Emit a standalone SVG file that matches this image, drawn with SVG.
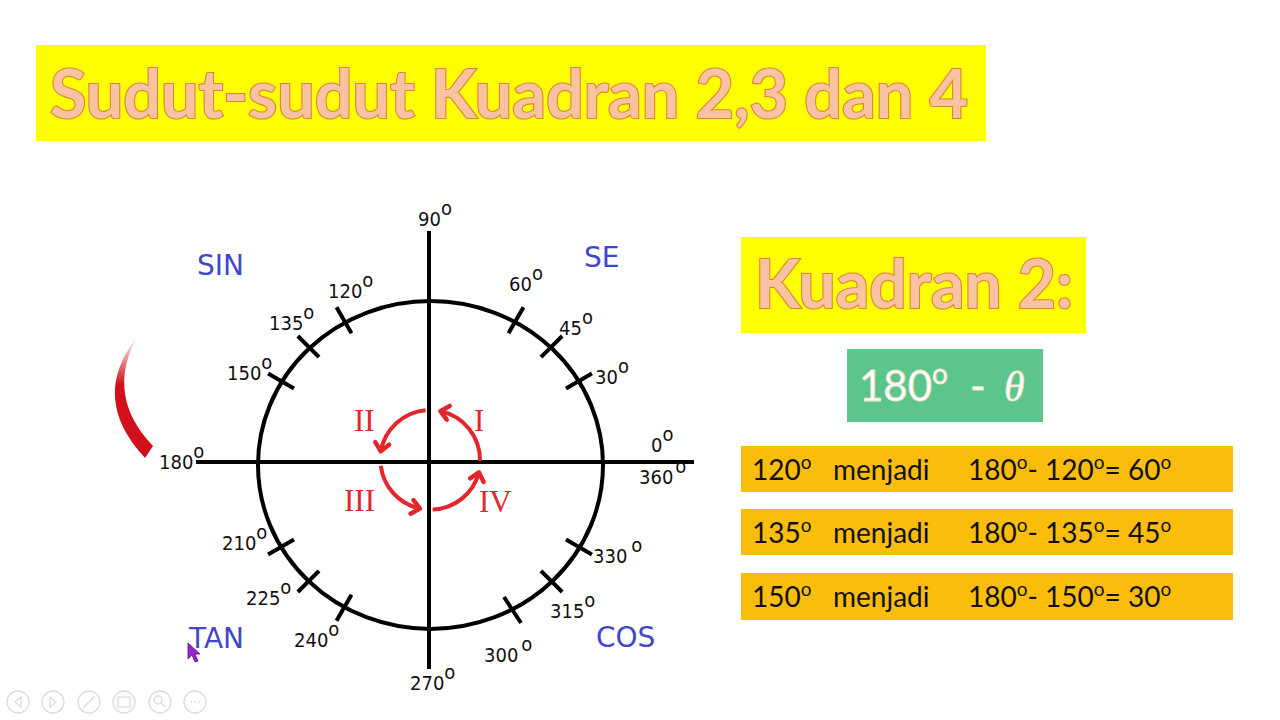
<svg xmlns="http://www.w3.org/2000/svg" width="1280" height="720" viewBox="0 0 1280 720">
<style>
.deg{font-family:'DejaVu Sans Condensed','DejaVu Sans',sans-serif;font-stretch:condensed;font-size:20px;fill:#111}
.sup{font-size:20px}
.blue{font-family:'DejaVu Sans',sans-serif;font-size:28px;fill:#3f48cc}
.rom{font-family:'Liberation Serif',serif;font-size:31px;fill:#e3262d}
.big{font-family:Lato,'Open Sans',sans-serif;font-weight:700;font-size:66px;fill:#f8c3a0;stroke:#e0823e;stroke-width:2.2;paint-order:stroke}
.row{font-family:Lato,'Open Sans',sans-serif;font-size:28px;fill:#111}
.rsup{font-size:19px}
.tick{stroke:#000;stroke-width:4;stroke-linecap:butt}
.red{fill:none;stroke:#e3262d;stroke-width:4;marker-end:url(#ah)}
.ico{fill:none;stroke:#dcdcdc;stroke-width:1.3}
</style>
<defs>
<marker id="ah" viewBox="-12 -12 24 24" markerWidth="24" markerHeight="24" markerUnits="userSpaceOnUse" orient="auto" refX="0" refY="0">
<path d="M-8,-7 L0,0 L-8,7" fill="none" stroke="#e3262d" stroke-width="4.5" stroke-linecap="round" stroke-linejoin="round"/>
</marker>
<linearGradient id="fade" gradientUnits="userSpaceOnUse" x1="0" y1="336" x2="0" y2="385">
<stop offset="0" stop-color="#d0101a" stop-opacity="0"/>
<stop offset="1" stop-color="#d0101a" stop-opacity="1"/>
</linearGradient>
</defs>
<rect width="1280" height="720" fill="#fff"/>

<g id="title">
<rect x="36" y="45" width="950" height="96" fill="#ffff00"/>
<text class="big" x="50" y="118" textLength="918" lengthAdjust="spacingAndGlyphs">Sudut-sudut Kuadran 2,3 dan 4</text>
</g>

<g id="circle-diagram">
<ellipse cx="430.5" cy="465" rx="172.5" ry="164" fill="none" stroke="#000" stroke-width="4"/>
<line class="tick" x1="196" y1="462" x2="694" y2="462"/>
<line class="tick" x1="429" y1="231" x2="429" y2="669"/>
<g id="ticks">
<line class="tick" x1="591.9" y1="373.5" x2="566" y2="388.5"/>
<line class="tick" x1="562.2" y1="336" x2="541" y2="357.2"/>
<line class="tick" x1="523.5" y1="307.2" x2="508.5" y2="333.2"/>
<line class="tick" x1="336.5" y1="307.2" x2="351.5" y2="333.2"/>
<line class="tick" x1="297.8" y1="336" x2="319" y2="357.2"/>
<line class="tick" x1="268.1" y1="373.5" x2="294" y2="388.5"/>
<line class="tick" x1="268.1" y1="554.5" x2="294" y2="539.5"/>
<line class="tick" x1="297.8" y1="592" x2="319" y2="570.8"/>
<line class="tick" x1="336.5" y1="620.8" x2="351.5" y2="594.8"/>
<line class="tick" x1="521" y1="623" x2="504" y2="597"/>
<line class="tick" x1="562.2" y1="592" x2="541" y2="570.8"/>
<line class="tick" x1="591.9" y1="554.5" x2="566" y2="539.5"/>
</g>
<g id="angle-labels">
<text class="deg" x="418" y="226">90<tspan class="sup" dy="-11">o</tspan></text>
<text class="deg" x="328" y="298">120<tspan class="sup" dy="-11">o</tspan></text>
<text class="deg" x="269" y="330">135<tspan class="sup" dy="-11">o</tspan></text>
<text class="deg" x="227" y="380">150<tspan class="sup" dy="-11">o</tspan></text>
<text class="deg" x="509" y="291">60<tspan class="sup" dy="-11">o</tspan></text>
<text class="deg" x="559" y="335">45<tspan class="sup" dy="-11">o</tspan></text>
<text class="deg" x="595" y="384">30<tspan class="sup" dy="-11">o</tspan></text>
<text class="deg" x="651" y="452">0<tspan class="sup" dy="-11">o</tspan></text>
<text class="deg" x="639" y="484">360<tspan class="sup" dx="2" dy="-11">o</tspan></text>
<text class="deg" x="593" y="563">330<tspan class="sup" dx="4" dy="-11">o</tspan></text>
<text class="deg" x="550" y="618">315<tspan class="sup" dy="-11">o</tspan></text>
<text class="deg" x="484" y="662">300<tspan class="sup" dx="3" dy="-11">o</tspan></text>
<text class="deg" x="410" y="690">270<tspan class="sup" dy="-11">o</tspan></text>
<text class="deg" x="294" y="647">240<tspan class="sup" dy="-11">o</tspan></text>
<text class="deg" x="246" y="605">225<tspan class="sup" dy="-11">o</tspan></text>
<text class="deg" x="222" y="550">210<tspan class="sup" dy="-11">o</tspan></text>
<text class="deg" x="159" y="469">180<tspan class="sup" dy="-11">o</tspan></text>
</g>
<g id="quadrant-names">
<text class="blue" x="197" y="275">SIN</text>
<text class="blue" x="584" y="267">SE</text>
<text class="blue" x="596" y="647">COS</text>
<text class="blue" x="189" y="648">TAN</text>
</g>
</g>

<g id="connectors">
<path class="red" d="M480,461 A50,50 0 0 0 440.4,411.1"/>
<path class="red" d="M425.6,410.2 A50,50 0 0 0 380.8,451.3"/>
<path class="red" d="M380.8,465.7 A50,50 0 0 0 419.9,508.6"/>
<path class="red" d="M432.6,509.6 A50,50 0 0 0 478.9,472.4"/>
</g>
<g id="roman">
<text class="rom" x="354" y="431">II</text>
<text class="rom" x="474" y="431">I</text>
<text class="rom" x="344" y="511">III</text>
<text class="rom" x="479" y="512">IV</text>
</g>

<g id="red-arc">
<path d="M137,337 Q89,398 145,458 L153,446 Q105,396 137,337 Z" fill="url(#fade)"/>
</g>

<g id="kuadran-title">
<rect x="741" y="237" width="345" height="96" fill="#ffff00"/>
<text class="big" x="755" y="308" textLength="318" lengthAdjust="spacingAndGlyphs">Kuadran 2:</text>
</g>

<g id="formula">
<rect x="847" y="349" width="196" height="73" fill="#5bc58c"/>
<text x="859" y="401" font-family="Lato,'Open Sans',sans-serif" font-size="42" fill="#fff" stroke="#efe2c8" stroke-width="0.8">180<tspan font-size="28" dy="-17">o</tspan><tspan dy="17" x="970">-</tspan></text>
<text x="1004" y="401" font-family="'Liberation Serif',serif" font-style="italic" font-size="42" fill="#fff" stroke="#efe2c8" stroke-width="0.8">θ</text>
</g>

<g id="row1">
<rect x="741" y="446" width="492" height="46" fill="#fbbd0c"/>
<text class="row" y="480"><tspan x="752">120</tspan><tspan class="rsup" dy="-11">o</tspan><tspan x="833" y="480">menjadi</tspan><tspan x="968">180</tspan><tspan class="rsup" dy="-11">o</tspan><tspan dy="11">- 120</tspan><tspan class="rsup" dy="-11">o</tspan><tspan dy="11">= 60</tspan><tspan class="rsup" dy="-11">o</tspan></text>
</g>
<g id="row2">
<rect x="741" y="509" width="492" height="46" fill="#fbbd0c"/>
<text class="row" y="543"><tspan x="752">135</tspan><tspan class="rsup" dy="-11">o</tspan><tspan x="833" y="543">menjadi</tspan><tspan x="968">180</tspan><tspan class="rsup" dy="-11">o</tspan><tspan dy="11">- 135</tspan><tspan class="rsup" dy="-11">o</tspan><tspan dy="11">= 45</tspan><tspan class="rsup" dy="-11">o</tspan></text>
</g>
<g id="row3">
<rect x="741" y="573" width="492" height="47" fill="#fbbd0c"/>
<text class="row" y="607"><tspan x="752">150</tspan><tspan class="rsup" dy="-11">o</tspan><tspan x="833" y="607">menjadi</tspan><tspan x="968">180</tspan><tspan class="rsup" dy="-11">o</tspan><tspan dy="11">- 150</tspan><tspan class="rsup" dy="-11">o</tspan><tspan dy="11">= 30</tspan><tspan class="rsup" dy="-11">o</tspan></text>
</g>

<g id="cursor">
<path d="M188,643 L188,659 L192,655 L195,662 L198,661 L195,654 L200,654 Z" fill="#9b20d0" stroke="#5a1080" stroke-width="0.8"/>
</g>

<g id="toolbar">
<circle class="ico" cx="18" cy="702" r="11"/><path class="ico" d="M21,697 L15,702 L21,707 Z"/>
<circle class="ico" cx="53" cy="702" r="11"/><path class="ico" d="M50,697 L56,702 L50,707 Z"/>
<circle class="ico" cx="89" cy="702" r="11"/><path class="ico" d="M83,708 L95,696"/>
<circle class="ico" cx="124" cy="702" r="11"/><rect class="ico" x="118" y="697" width="12" height="10"/>
<circle class="ico" cx="160" cy="702" r="11"/><circle class="ico" cx="158" cy="700" r="4"/><path class="ico" d="M161,703 L165,707"/>
<circle class="ico" cx="195" cy="702" r="11"/><path class="ico" d="M190,702h2M194,702h2M198,702h2"/>
</g>
</svg>
